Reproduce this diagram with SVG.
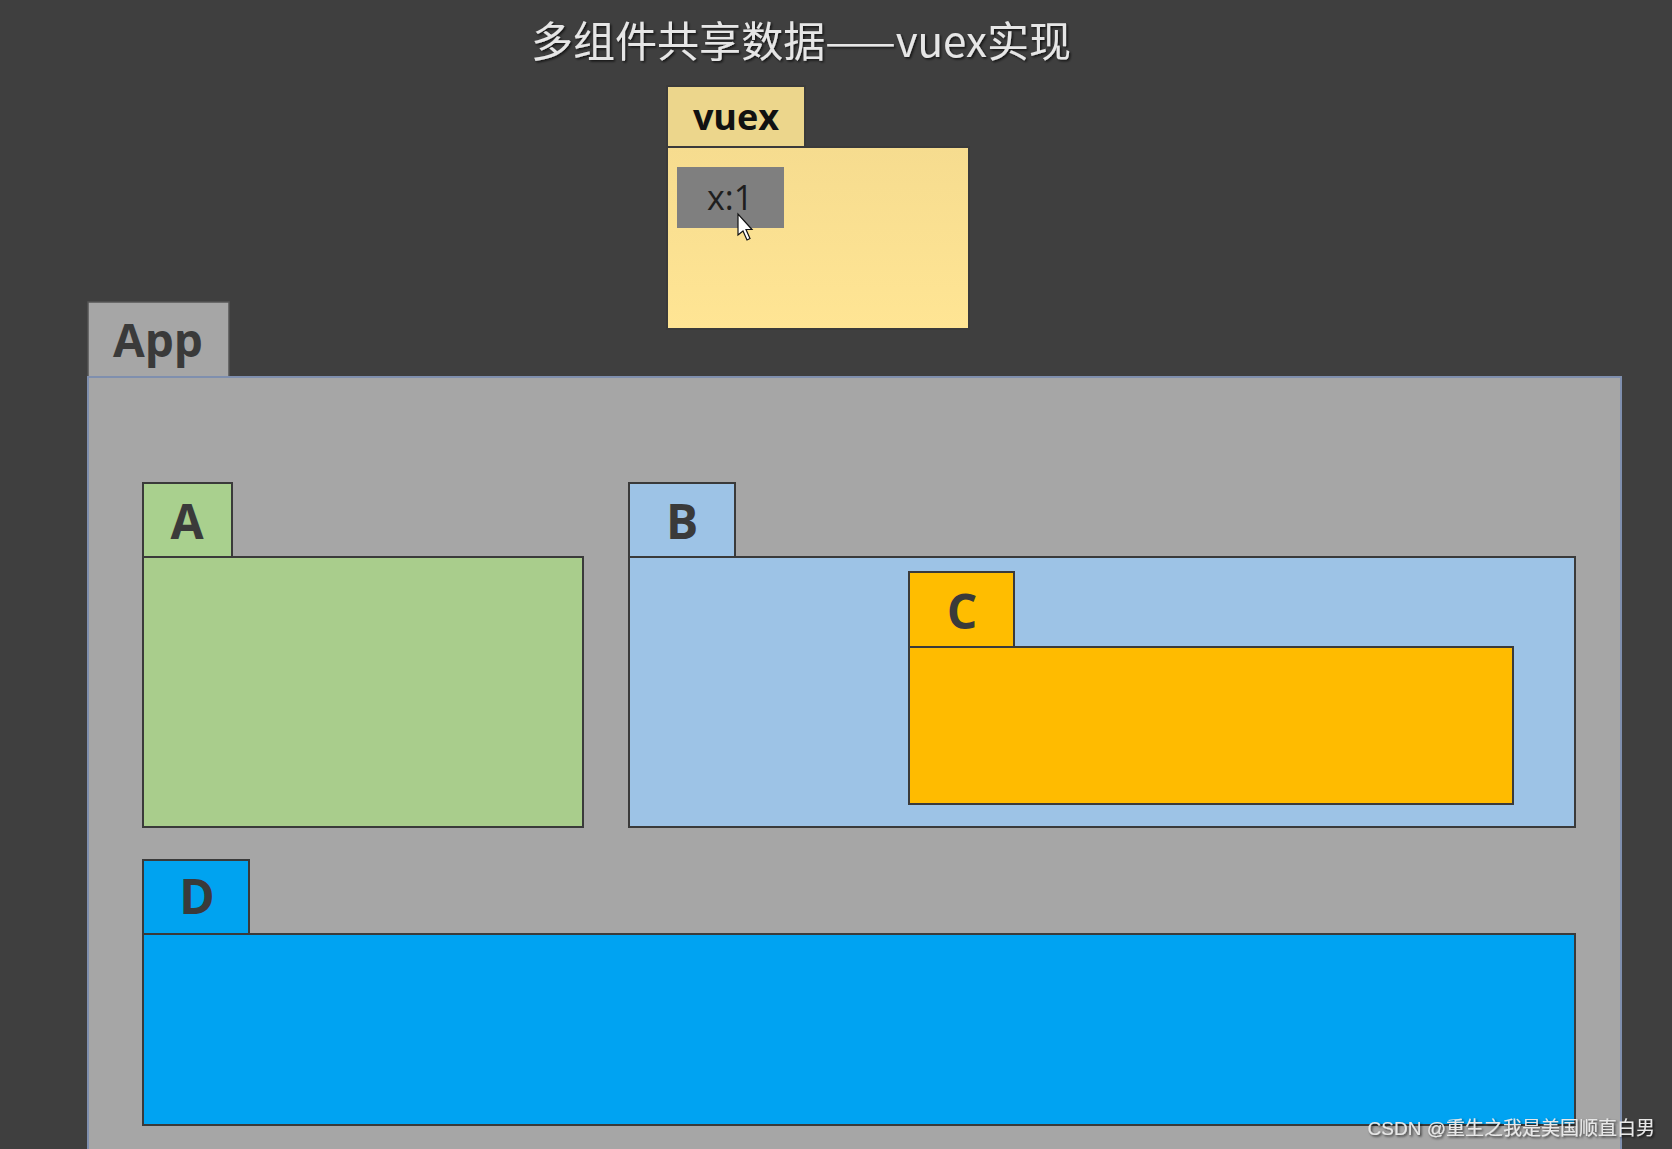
<svg xmlns="http://www.w3.org/2000/svg" width="1672" height="1149" viewBox="0 0 1672 1149">
<defs>
<style>
.lbl{font-family:"Open Sans","Noto Sans","Liberation Sans",sans-serif;font-weight:700;fill:#3a3a3a;text-anchor:middle}
.box{stroke:#3a3a3a;stroke-width:2}
.title{font-family:"Noto Sans CJK SC","Noto Sans",sans-serif;fill:#e6e6e6}
</style>
<linearGradient id="vg" x1="0" y1="0" x2="0" y2="1">
<stop offset="0" stop-color="#f6dc8f"/>
<stop offset="1" stop-color="#ffe594"/>
</linearGradient>
<filter id="sh" x="-5%" y="-20%" width="110%" height="140%">
<feDropShadow dx="1.5" dy="1.5" stdDeviation="1" flood-color="#000" flood-opacity="0.7"/>
</filter>
</defs>
<rect x="0" y="0" width="1672" height="1149" fill="#3f3f3f"/>
<text class="title" x="801" y="57" font-size="42" text-anchor="middle" filter="url(#sh)" textLength="540" lengthAdjust="spacingAndGlyphs">多组件共享数据——vuex实现</text>

<g id="vuex">
<rect class="box" x="667" y="86" width="138" height="61" fill="#ecd68c"/>
<rect class="box" x="667" y="147" width="302" height="182" fill="url(#vg)"/>
<text class="lbl" x="736" y="130" font-size="36" style="fill:#111">vuex</text>
<rect x="677" y="167" width="107" height="61" fill="#7f7f7f"/>
<text x="730" y="210" font-size="34" font-family="Open Sans,Noto Sans,sans-serif" text-anchor="middle" fill="#1e1e1e">x:1</text>
<path d="M738 214 L738 235 L743 231 L747 240 L750 238.5 L746 229.5 L752 229.5 Z" fill="#fff" stroke="#111" stroke-width="1.2"/>
</g>

<g id="App">
<rect x="88" y="302" width="141" height="75" fill="#a6a6a6" stroke="#555" stroke-width="1.5"/>
<rect x="88" y="377" width="1533" height="790" fill="#a6a6a6" stroke="#7f8fae" stroke-width="2"/>
<text class="lbl" x="158" y="357" font-size="46">App</text>
</g>

<g id="A">
<rect class="box" x="143" y="483" width="89" height="74" fill="#a9d08e"/>
<rect class="box" x="143" y="557" width="440" height="270" fill="#a9cd8c"/>
<text class="lbl" x="187" y="539" font-size="48">A</text>
</g>

<g id="B">
<rect class="box" x="629" y="483" width="106" height="74" fill="#9dc3e6" stroke="#5a6f88"/>
<rect class="box" x="629" y="557" width="946" height="270" fill="#9dc3e6" stroke="#5a6f88"/>
<text class="lbl" x="682" y="539" font-size="48">B</text>
</g>

<g id="C">
<rect class="box" x="909" y="572" width="105" height="75" fill="#ffbd00"/>
<rect class="box" x="909" y="647" width="604" height="157" fill="#ffbb00"/>
<text class="lbl" x="962" y="629" font-size="48">C</text>
</g>

<g id="D">
<rect class="box" x="143" y="860" width="106" height="74" fill="#00a3f0" stroke="#24435a"/>
<rect class="box" x="143" y="934" width="1432" height="191" fill="#00a3f2" stroke="#24435a"/>
<text class="lbl" x="197" y="914" font-size="48">D</text>
</g>

<g id="connectors"></g>

<text x="1655" y="1135" font-size="19" font-family="Liberation Sans,Noto Sans CJK SC,sans-serif" text-anchor="end" fill="#e8e8e8" filter="url(#sh)">CSDN @重生之我是美国顺直白男</text>
</svg>
